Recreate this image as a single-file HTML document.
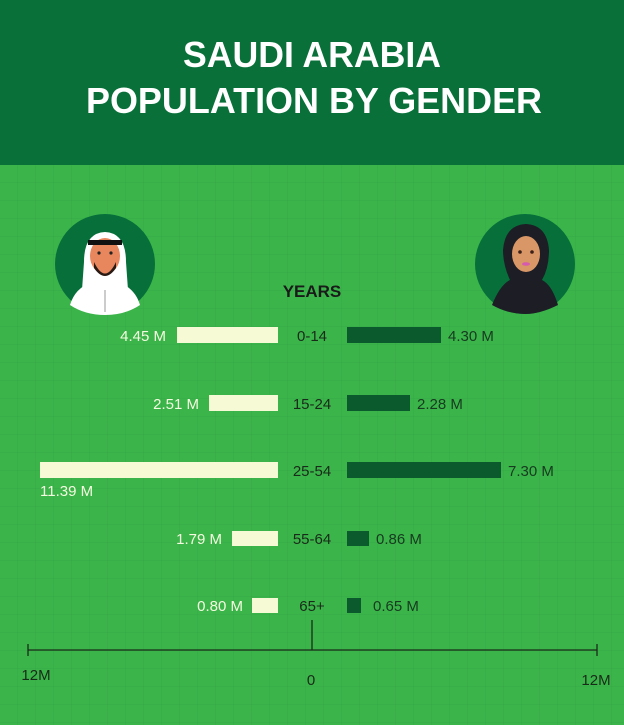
<!DOCTYPE html>
<html><head><meta charset="utf-8"><style>
html,body{margin:0;padding:0;background:#3bb54a;}
svg{display:block;font-family:"Liberation Sans",sans-serif;}
</style></head><body>
<svg width="624" height="725" viewBox="0 0 624 725" xmlns="http://www.w3.org/2000/svg">
<defs>
<pattern id="g" width="18" height="18" patternUnits="userSpaceOnUse" x="0" y="165">
<path d="M18 0V18M0 18H18" stroke="#36a945" stroke-width="1" fill="none"/>
</pattern>
</defs>
<rect width="624" height="725" fill="#3bb54a"/>
<rect y="165" width="624" height="560" fill="url(#g)"/>
<rect width="624" height="165" fill="#09703a"/>
<text x="312" y="67" text-anchor="middle" fill="#fff" font-weight="bold" font-size="36" textLength="258" lengthAdjust="spacingAndGlyphs">SAUDI ARABIA</text>
<text x="314" y="113" text-anchor="middle" fill="#fff" font-weight="bold" font-size="36" textLength="456" lengthAdjust="spacingAndGlyphs">POPULATION BY GENDER</text>

<!-- man -->
<circle cx="105" cy="264" r="50" fill="#07703a"/>
<path d="M70 305 Q75 288 92 282 L118 282 Q135 288 140 305 Q125 315 105 315 Q85 315 70 305Z" fill="#fff"/>
<path d="M84 262 Q84 233 105 232 Q126 233 126 262 L128 290 L82 290Z" fill="#fff"/>
<ellipse cx="105" cy="256" rx="15" ry="18" fill="#e8875e"/>
<path d="M94 262 Q105 285 116 262 L116 268 Q105 284 94 268Z" fill="#2a1a14"/>
<rect x="88" y="240" width="34" height="5" fill="#111"/>
<circle cx="99" cy="253" r="1.6" fill="#222"/><circle cx="111" cy="253" r="1.6" fill="#222"/>
<rect x="104" y="290" width="2" height="22" fill="#ccc"/>

<!-- woman -->
<circle cx="525" cy="264" r="50" fill="#07703a"/>
<path d="M492 305 Q500 285 510 280 Q503 265 503 250 Q505 225 526 224 Q547 225 549 250 Q549 268 542 280 Q552 285 558 305 Q540 314 525 314 Q508 314 492 305Z" fill="#1d1d26"/>
<ellipse cx="526" cy="254" rx="14" ry="18" fill="#d99666"/>
<circle cx="520" cy="252" r="1.8" fill="#3a2017"/><circle cx="532" cy="252" r="1.8" fill="#3a2017"/>
<ellipse cx="526" cy="264" rx="4" ry="1.8" fill="#d65ab0"/>

<text x="312" y="297" text-anchor="middle" font-weight="bold" font-size="17" fill="#1a1a1a">YEARS</text>

<g font-size="15" fill="#1a2a1a">
<text x="312" y="341" text-anchor="middle">0-14</text>
<text x="312" y="409" text-anchor="middle">15-24</text>
<text x="312" y="476" text-anchor="middle">25-54</text>
<text x="312" y="544" text-anchor="middle">55-64</text>
<text x="312" y="611" text-anchor="middle">65+</text>
</g>

<g fill="#f6fbd6">
<rect x="177" y="327" width="101" height="16"/>
<rect x="209" y="395" width="69" height="16"/>
<rect x="40" y="462" width="238" height="16"/>
<rect x="232" y="531" width="46" height="15"/>
<rect x="252" y="598" width="26" height="15"/>
</g>
<g fill="#0b5a2e">
<rect x="347" y="327" width="94" height="16"/>
<rect x="347" y="395" width="63" height="16"/>
<rect x="347" y="462" width="154" height="16"/>
<rect x="347" y="531" width="22" height="15"/>
<rect x="347" y="598" width="14" height="15"/>
</g>
<g font-size="15" fill="#f4fbe0" text-anchor="end">
<text x="166" y="341">4.45 M</text>
<text x="199" y="409">2.51 M</text>
<text x="222" y="544">1.79 M</text>
<text x="243" y="611">0.80 M</text>
</g>
<text x="40" y="496" font-size="15" fill="#f4fbe0">11.39 M</text>
<g font-size="15" fill="#173a20">
<text x="448" y="341">4.30 M</text>
<text x="417" y="409">2.28 M</text>
<text x="508" y="476">7.30 M</text>
<text x="376" y="544">0.86 M</text>
<text x="373" y="611">0.65 M</text>
</g>

<g stroke="#1a2a1a" stroke-width="1.3">
<line x1="28" y1="650" x2="597" y2="650"/>
<line x1="28" y1="644" x2="28" y2="656"/>
<line x1="597" y1="644" x2="597" y2="656"/>
<line x1="312" y1="620" x2="312" y2="650"/>
</g>
<g font-size="15" fill="#1a2a1a" text-anchor="middle">
<text x="36" y="680">12M</text>
<text x="311" y="685">0</text>
<text x="596" y="685">12M</text>
</g>
</svg>
</body></html>
